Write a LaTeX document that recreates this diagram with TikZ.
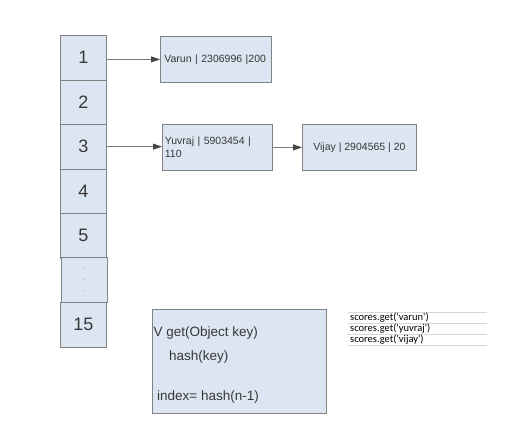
\documentclass[tikz,border=0pt]{standalone}
\usepackage{fontspec}
\setmainfont{Liberation Sans}
\newfontfamily\calib{Carlito}
\usetikzlibrary{arrows.meta}
\definecolor{boxfill}{RGB}{220,230,242}
\definecolor{boxline}{RGB}{130,130,130}
\definecolor{txt}{RGB}{55,55,55}
\definecolor{arrline}{RGB}{120,120,120}
\definecolor{arrhead}{RGB}{70,70,70}
\definecolor{grid}{RGB}{215,215,215}
\definecolor{dotc}{RGB}{150,150,150}
\begin{document}
\begin{tikzpicture}[x=1pt,y=-1pt,
  cellbox/.style={draw=boxline,fill=boxfill,line width=0.8pt,minimum width=46pt,minimum height=44.5pt,inner sep=0pt,anchor=north west,text=txt,font=\fontsize{18}{20}\selectfont},
  recbox/.style={draw=boxline,fill=boxfill,line width=0.8pt,inner sep=0pt,anchor=north west,text=txt,font=\fontsize{10.5}{13}\selectfont},
  link/.style={draw=arrline,line width=0.8pt,-{Triangle[length=9pt,width=6pt,color=arrhead]}},
  gettext/.style={anchor=west,inner sep=0pt,text=txt,font=\fontsize{13.5}{15}\selectfont},
  scoretext/.style={anchor=west,inner sep=0pt,text=black,font=\calib\fontsize{10.5}{11}\selectfont}
]
\useasboundingbox (0,0) rectangle (530,426);
% array cells
\node[cellbox] (c1) at (60,35) {1};
\node[cellbox] (c2) at (60,80) {2};
\node[cellbox] (c3) at (60,124) {3};
\node[cellbox] (c4) at (60,169) {4};
\node[cellbox] (c5) at (60,213) {5};
\node[cellbox,text=dotc,font=\fontsize{8}{11.5}\selectfont,align=center] (cd) at (61,257) {.\\.\\.};
\node[cellbox] (c15) at (60,302) {15};
% record boxes
\node[recbox,minimum width=109pt,minimum height=46pt,text width=103pt,align=left,inner xsep=4pt] (varun) at (160,36) {Varun | 2306996 |200};
\node[recbox,minimum width=109pt,minimum height=46pt,text width=105pt,align=left,inner xsep=2.5pt] (yuvraj) at (162,124) {Yuvraj | 5903454 |\\110};
\node[recbox,minimum width=114pt,minimum height=46pt] (vijay) at (302,124) {Vijay | 2904565 | 20};
% arrows
\draw[link] (c1.east |- varun.west) -- (varun.west);
\draw[link] (c3.east) -- (yuvraj.west |- c3.east);
\draw[link] (yuvraj.east) -- (vijay.west);
% get box
\node[recbox,minimum width=174pt,minimum height=104pt] (getbox) at (152,309) {};
\node[gettext] (g1) at (153.5,333) {V get(Object key)};
\node[gettext] (g2) at (169,357) {hash(key)};
\node[gettext] (g3) at (157,397) {index= hash(n-1)};
% scores table
\foreach \yy in {312,323,334,345} \draw[grid,line width=0.5pt] (348,\yy) -- (487,\yy);
\node[scoretext] (s1) at (350,317.5) {scores.get('varun')};
\node[scoretext] (s2) at (350,328.5) {scores.get('yuvraj')};
\node[scoretext] (s3) at (350,339.5) {scores.get('vijay')};
\end{tikzpicture}
\end{document}
